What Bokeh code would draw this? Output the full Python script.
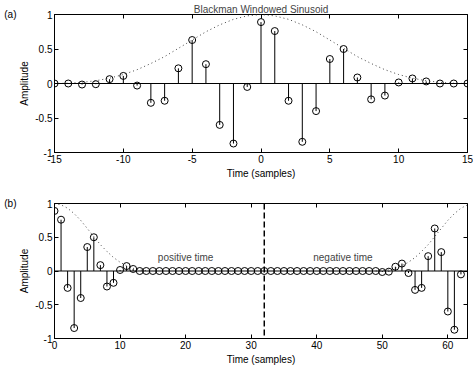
from bokeh.plotting import figure
from bokeh.layouts import column
from bokeh.models import Span, Label, LinearAxis, FixedTicker, CustomJSTickFormatter, Range1d
from bokeh.embed import file_html
from bokeh.resources import INLINE

# ---- data ----
n_top = list(range(-15, 16))
top_vals = [0.0, 0.0, -0.015, -0.01, 0.063, 0.11, -0.03, -0.28, -0.25, 0.22, 0.63,
            0.28, -0.60, -0.87, -0.05, 0.89, 0.76, -0.25, -0.845, -0.40, 0.355,
            0.50, 0.087, -0.23, -0.175, 0.015, 0.073, 0.03, 0.0, 0.0, 0.0]
top_env = [0.0, 0.004, 0.017, 0.04, 0.077, 0.13, 0.20, 0.29, 0.39, 0.51, 0.63,
           0.75, 0.85, 0.93, 0.98, 1.0, 0.98, 0.93, 0.85, 0.75, 0.63, 0.51,
           0.39, 0.29, 0.20, 0.13, 0.077, 0.04, 0.017, 0.004, 0.0]

n_bot = list(range(0, 64))
bot_vals = [0.89, 0.76, -0.25, -0.845, -0.40, 0.355, 0.50, 0.087, -0.23, -0.175,
            0.015, 0.073, 0.03, 0.0, 0.0, 0.0,
            0.0, 0.0, 0.0, 0.0, 0.0, 0.0, 0.0, 0.0, 0.0, 0.0, 0.0,
            0.0, 0.0, 0.0, 0.0, 0.0, 0.0, 0.0, 0.0, 0.0, 0.0, 0.0,
            0.0, 0.0, 0.0, 0.0, 0.0, 0.0, 0.0, 0.0, 0.0, 0.0, 0.0,
            0.0, -0.015, -0.01, 0.063, 0.11, -0.03, -0.28, -0.25, 0.22, 0.63,
            0.28, -0.60, -0.87, -0.05]
env_left_n = list(range(0, 16))
env_left = [1.0, 0.98, 0.93, 0.85, 0.75, 0.63, 0.51, 0.39, 0.29, 0.20, 0.13,
            0.077, 0.04, 0.017, 0.004, 0.0]
env_right_n = list(range(49, 64))
env_right = [0.0, 0.004, 0.017, 0.04, 0.077, 0.13, 0.20, 0.29, 0.39, 0.51, 0.63,
             0.75, 0.85, 0.93, 0.98]

x_ticks_top = [-15, -10, -5, 0, 5, 10, 15]
x_ticks_bot = [0, 10, 20, 30, 40, 50, 60]
y_ticks = [-1, -0.5, 0, 0.5, 1]

title_text = "Blackman Windowed Sinusoid"
x_label = "Time (samples)"
y_label = "Amplitude"
panel_labels = ["(a)", "(b)"]
region_texts = ["positive time", "negative time"]
region_x = [20, 44]
region_y = 0.2
split_x = 32

FONT = "Liberation Sans"
FS = "10px"
fmt = CustomJSTickFormatter(code="return tick.toString();")
blank = CustomJSTickFormatter(code="return '';")


def style_axes(p, xticks, panel_label):
    p.grid.visible = False
    p.outline_line_color = "black"
    p.outline_line_width = 1
    p.background_fill_color = "white"
    p.border_fill_color = "white"
    for ax, ticks in ((p.xaxis[0], xticks), (p.yaxis[0], y_ticks)):
        ax.ticker = FixedTicker(ticks=ticks)
        ax.major_tick_in = 4
        ax.major_tick_out = 0
        ax.minor_tick_line_color = None
        ax.axis_line_color = "black"
        ax.major_tick_line_color = "black"
        ax.major_label_text_font = FONT
        ax.major_label_text_font_size = FS
        ax.major_label_text_color = "black"
        ax.major_label_standoff = 2
        ax.axis_label_text_font = FONT
        ax.axis_label_text_font_size = FS
        ax.axis_label_text_font_style = "normal"
        ax.axis_label_text_color = "black"
        ax.axis_label_standoff = 2
        ax.formatter = fmt
    p.xaxis[0].axis_label = x_label
    p.yaxis[0].axis_label = y_label
    # mirrored ticks on top and right
    for side, ticks in (("above", xticks), ("right", y_ticks)):
        ax = LinearAxis(ticker=FixedTicker(ticks=ticks), major_tick_in=4,
                        major_tick_out=0, minor_tick_line_color=None,
                        axis_line_color=None, major_tick_line_color="black",
                        formatter=blank, major_label_standoff=0)
        p.add_layout(ax, side)
    # panel label "(a)" / "(b)" at the outer left, level with the frame top
    lab = LinearAxis(ticker=FixedTicker(ticks=[1]), major_tick_in=0, major_tick_out=0,
                     minor_tick_line_color=None, axis_line_color=None,
                     major_tick_line_color=None,
                     formatter=CustomJSTickFormatter(code="return '%s';" % panel_label),
                     major_label_standoff=0, major_label_text_font=FONT,
                     major_label_text_font_size=FS, major_label_text_color="black")
    p.add_layout(lab, "left")


def make(xr, xticks, n, vals, envs, frame_h, top_border, bottom_border, panel_label):
    p = figure(output_backend="svg", toolbar_location=None,
               frame_width=413, frame_height=frame_h,
               x_range=Range1d(*xr), y_range=Range1d(-1, 1),
               min_border_left=54, min_border_right=6,
               min_border_top=top_border, min_border_bottom=bottom_border)
    style_axes(p, xticks, panel_label)
    p.add_layout(Span(location=0, dimension="width", line_color="black", line_width=1))
    for en, ev in envs:
        p.line(en, ev, line_dash="1 3", line_color="#444444", line_width=1)
    p.segment(x0=n, y0=[0] * len(n), x1=n, y1=vals, line_color="black", line_width=1)
    p.scatter(n, vals, marker="circle", size=7, fill_color=None,
              line_color="black", line_width=1)
    return p


p1 = make((-15, 15), x_ticks_top, n_top, top_vals, [(n_top, top_env)], 138, 14, 33,
          panel_labels[0])
p1.title.text = title_text
p1.title.align = "center"
p1.title.text_font = FONT
p1.title.text_font_size = FS
p1.title.text_font_style = "normal"
p1.title.standoff = 0

p2 = make((0, 63), x_ticks_bot, n_bot, bot_vals,
          [(env_left_n, env_left), (env_right_n, env_right)], 135, 18, 22,
          panel_labels[1])
p2.add_layout(Span(location=split_x, dimension="height", line_color="black",
                   line_width=1.5, line_dash="6 3"))
for t, xx in zip(region_texts, region_x):
    p2.add_layout(Label(x=xx, y=region_y, text=t, text_font=FONT, text_font_size=FS,
                        text_align="center", text_baseline="middle"))

layout = column(p1, p2, spacing=0)
open("out.html", "w").write(file_html(layout, INLINE))
